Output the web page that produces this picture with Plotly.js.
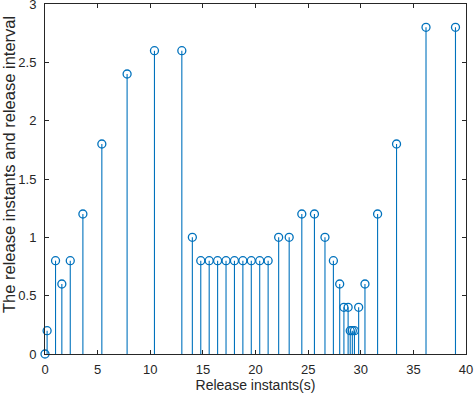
<!DOCTYPE html>
<html>
<head>
<meta charset="utf-8">
<script src="https://cdn.plot.ly/plotly-3.0.1.min.js"></script>
<style>html,body{margin:0;padding:0;background:#fff;}#chart{width:474px;height:399px;}</style>
</head>
<body>
<div id="chart"></div>
<script>
// Release instants (s)
var releaseInstants = [0, 0.2, 1.0, 1.6, 2.4, 3.6, 5.4, 7.8, 10.4, 13.0, 14.0,
  14.8, 15.6, 16.4, 17.2, 18.0, 18.8, 19.6, 20.4, 21.2,
  22.2, 23.2, 24.4, 25.6, 26.6, 27.4, 28.0, 28.4, 28.8, 29.0, 29.2, 29.4, 29.8,
  30.4, 31.6, 33.4, 36.2, 39.0];
// Release interval
var releaseIntervals = [0, 0.2, 0.8, 0.6, 0.8, 1.2, 1.8, 2.4, 2.6, 2.6, 1.0,
  0.8, 0.8, 0.8, 0.8, 0.8, 0.8, 0.8, 0.8, 0.8,
  1.0, 1.0, 1.2, 1.2, 1.0, 0.8, 0.6, 0.4, 0.4, 0.2, 0.2, 0.2, 0.4,
  0.6, 1.2, 1.8, 2.8, 2.8];
var xTicks = [0, 5, 10, 15, 20, 25, 30, 35, 40];
var yTicks = [0, 0.5, 1, 1.5, 2, 2.5, 3];
var yTickLabels = ['0', '0.5', '1', '1.5', '2', '2.5', '3'];
var xTitle = 'Release instants(s)';
var yTitle = 'The release instants and release interval';

var blue = '#0072BD';
var axisColor = '#262626';

var trace = {
  x: releaseInstants,
  y: releaseIntervals,
  type: 'scatter',
  mode: 'markers',
  cliponaxis: false,
  marker: {symbol: 'circle-open', size: 8, color: blue, line: {width: 1.3, color: blue}},
  error_y: {
    type: 'data', symmetric: false,
    array: releaseIntervals.map(function(){return 0;}),
    arrayminus: releaseIntervals,
    width: 0, thickness: 1.1, color: blue
  },
  hoverinfo: 'x+y'
};

var fam = 'Liberation Sans, Arial, sans-serif';
var tickFont = {family: fam, size: 13, color: axisColor};

var layout = {
  width: 474, height: 399,
  margin: {l: 45, r: 8, t: 4, b: 45, pad: 0},
  paper_bgcolor: '#fff', plot_bgcolor: '#fff',
  showlegend: false,
  xaxis: {
    range: [0, 40], tickvals: xTicks, ticktext: xTicks.map(String),
    ticks: 'inside', ticklen: 4, tickwidth: 1, tickcolor: axisColor,
    showline: true, linecolor: axisColor, linewidth: 1, mirror: 'ticks',
    showgrid: false, zeroline: false, tickfont: tickFont, ticklabelstandoff: 3,
    ticklabeloverflow: 'allow',
    title: {text: xTitle, font: {family: fam, size: 14, color: axisColor}, standoff: 3}
  },
  yaxis: {
    range: [0, 3], tickvals: yTicks, ticktext: yTickLabels,
    ticks: 'inside', ticklen: 4, tickwidth: 1, tickcolor: axisColor,
    showline: true, linecolor: axisColor, linewidth: 1, mirror: 'ticks',
    showgrid: false, zeroline: false, tickfont: tickFont,
    ticklabelstandoff: 5, ticklabeloverflow: 'allow'
  },
  annotations: [{
    text: yTitle, textangle: -90, showarrow: false,
    xref: 'paper', yref: 'paper', x: -0.0855, y: 0.54,
    xanchor: 'center', yanchor: 'middle',
    font: {family: fam, size: 16.5, color: axisColor}
  }]
};

Plotly.newPlot('chart', [trace], layout, {displayModeBar: false, staticPlot: true});
</script>
</body>
</html>
